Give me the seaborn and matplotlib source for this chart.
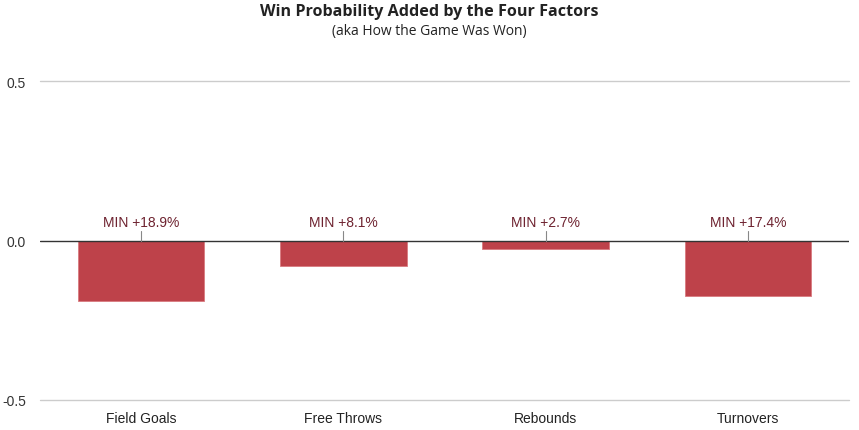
"""
Win probability added by the four factors - bar chart recreation
"""
import matplotlib
matplotlib.use("Agg")
import matplotlib.pyplot as plt
import seaborn as sns
import pandas as pd

# Data
categories = ["Field Goals", "Free Throws", "Rebounds", "Turnovers"]
wpa_values = [-0.189, -0.081, -0.027, -0.174]
team_labels = ["MIN +18.9%", "MIN +8.1%", "MIN +2.7%", "MIN +17.4%"]
y_ticks = [-0.5, 0.0, 0.5]

BAR_COLOR = "#BE424A"
LABEL_COLOR = "#6E2330"

sns.set_style("white")
plt.rcParams["font.family"] = ["Liberation Sans", "DejaVu Sans"]

df = pd.DataFrame({"factor": categories, "wpa": wpa_values})

fig = plt.figure(figsize=(8.59, 4.31), dpi=100)
ax = fig.add_axes([40 / 859, 30 / 431, 809 / 859, 319 / 431])

sns.barplot(
    data=df,
    x="factor",
    y="wpa",
    color=BAR_COLOR,
    saturation=1,
    width=0.625,
    edgecolor="#D97A80",
    linewidth=0.6,
    ax=ax,
)

ax.set_xlim(-0.5, len(categories) - 0.5)
ax.set_ylim(-0.5, 0.5)
ax.set_yticks(y_ticks)
ax.set_yticklabels([f"{t:.1f}" for t in y_ticks], fontsize=10, color="#333333")
ax.tick_params(axis="x", labelsize=10, colors="#222222", length=0, pad=8)
ax.tick_params(axis="y", length=0, pad=10)
ax.set_xlabel("")
ax.set_ylabel("")

for spine in ax.spines.values():
    spine.set_visible(False)

# light grid at +/-0.5, dark line at zero
for t in [-0.5, 0.5]:
    ax.axhline(t, color="#CCCCCC", linewidth=1, zorder=0, clip_on=False)
ax.axhline(0, color="#333333", linewidth=1, zorder=3)

# team labels with small leader ticks
for i, lab in enumerate(team_labels):
    ax.plot([i, i], [0, 0.03], color="#888888", linewidth=0.8, zorder=4)
    ax.text(i, 0.058, lab, ha="center", va="center", fontsize=10,
            color=LABEL_COLOR)

fig.text(0.5, 1 - 12 / 431, "Win Probability Added by the Four Factors",
         ha="center", va="center", fontsize=11.6, fontweight="bold",
         family=["Open Sans", "DejaVu Sans"], color="#222222")
fig.text(0.5, 1 - 31 / 431, "(aka How the Game Was Won)",
         ha="center", va="center", fontsize=10,
         family=["Open Sans", "DejaVu Sans"], color="#222222")

fig.savefig("out.png", dpi=100)
